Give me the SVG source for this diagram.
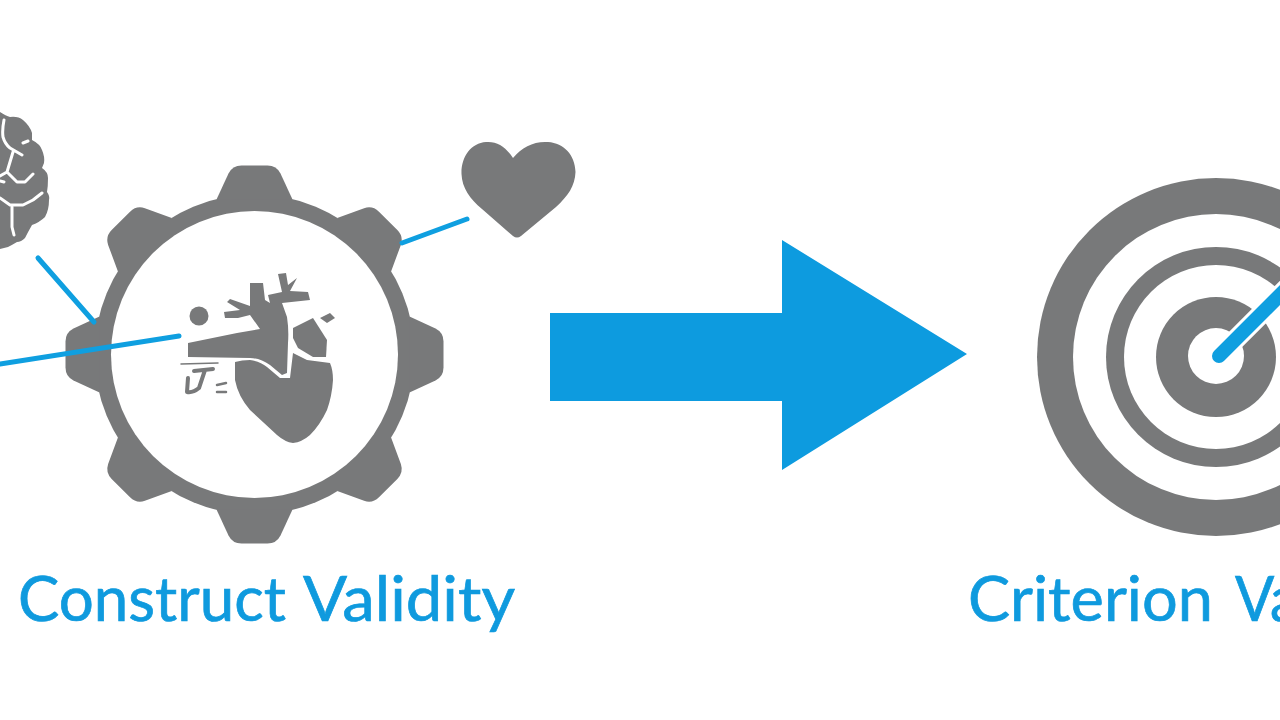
<svg xmlns="http://www.w3.org/2000/svg" width="1280" height="720" viewBox="0 0 1280 720">
<style>
.g{fill:#78797a}
.w{fill:none;stroke:#fff;stroke-width:3;stroke-linecap:round;stroke-linejoin:round}
.s{fill:none;stroke:#78797a;stroke-linecap:round;stroke-linejoin:round}
.b{fill:none;stroke:#0f9fe0;stroke-width:5;stroke-linecap:round}
.t{font-family:"Lato","Open Sans",sans-serif;font-size:62px;fill:#0f9ade;stroke:#0f9ade;stroke-width:.7}
</style>
<defs><path id="tooth" d="M-38-155L-26-181Q-22-189-13-189H13Q22-189 26-181L38-155Z"/></defs>
<rect width="1280" height="720" fill="#fff"/>
<g id="gear">
<g class="g" transform="translate(254.500 354.500)">
<circle r="160"/>
<use href="#tooth"/><use href="#tooth" transform="rotate(45)"/><use href="#tooth" transform="rotate(90)"/><use href="#tooth" transform="rotate(135)"/><use href="#tooth" transform="rotate(180)"/><use href="#tooth" transform="rotate(225)"/><use href="#tooth" transform="rotate(270)"/><use href="#tooth" transform="rotate(315)"/>
</g>
<circle cx="254.500" cy="354.500" r="143.500" fill="#fff"/>
</g>
<g id="heart-anatomy">
<circle class="g" cx="199" cy="316" r="9.500"/>
<path class="g" d="M188 343L237 333L260 329L250 315L238 318L225 318L224 312L240 310L227 302L230 299L250 306V283H263L265 300L270 303L268 295L282 292L278 274L286 273L288 285L297 278L290 291L308 292L310 300L282 303L287 317Q289 330 288 343L287 373L282 375L270 365Q260 358 250 358L188 357Z"/>
<path class="g" d="M293 328L313 318L327 340L326 357H313L298 348L293 338Z"/>
<path class="g" d="M320 318L330 313L335 318L327 323Z"/>
<path class="g" d="M235 362Q242 360 250 360Q260 361 267 367L280 378H290L293 353L307 360L330 363Q333 370 333 380Q332 396 327 410Q320 425 310 435Q302 442 293 443Q285 442 277 435L250 410Q238 396 235 380Z"/>
<path class="s" stroke-width="1.500" d="M181 364L218 363"/>
<path class="s" stroke-width="4" d="M194 371L213 369M205 370L199 388Q193 393 187 392L188 378"/>
<path class="s" stroke-width="2.500" d="M217 385L226 383M217 392L226 392"/>
</g>
<g id="brain">
<path class="g" d="M0 112Q6 116 10 117Q18 116 23 120Q30 126 32 133L32 140Q40 144 42 150Q45 157 44 163L42 168Q48 172 48 178Q48 186 47 192Q50 196 49 200Q49 210 45 217Q40 222 32 225Q28 232 25 238Q21 242 17 242Q12 245 8 247L0 249Z"/>
<path class="w" d="M4 120Q2 130 3 137Q5 144 10 148L22 155M13 152L7 172L0 176M7 172L17 182H25L33 174M0 198L10 205H23L33 200L42 193M12 207V227L14 235M23 143L28 141M0 181L4 182"/>
</g>
<g id="heart-icon"><path class="g" d="M513 158C506 147 497 141 486 142C471 143 461 157 461.500 174C462 188 470 199 482 209L513 236Q517 239 521 236L556 207C568 196 575 186 575.500 172C575 155 564 143 548 142C534 141 522 147 513 158Z"/></g>
<g id="connectors">
<line class="b" x1="38" y1="258" x2="94" y2="322"/>
<line class="b" x1="0" y1="364" x2="179" y2="336"/>
<line class="b" x1="402" y1="243" x2="467" y2="219"/>
<path id="main-arrow" fill="#0d9bdf" d="M550 313H782V240L967 354L782 470V401H550Z"/>
</g>
<g id="target">
<circle class="g" cx="1216" cy="357" r="179"/>
<circle cx="1216" cy="357" r="143" fill="#fff"/>
<circle class="g" cx="1216" cy="357" r="110"/>
<circle cx="1216" cy="357" r="92" fill="#fff"/>
<circle class="g" cx="1216" cy="357" r="60"/>
<circle cx="1216" cy="356" r="28" fill="#fff"/>
<path d="M1219 356L1300 275" stroke="#fff" stroke-width="20" stroke-linecap="round" fill="none"/>
<path d="M1219 356L1300 275" stroke="#0f9fe0" stroke-width="14" stroke-linecap="round" fill="none"/>
</g>
<g id="labels">
<text class="t" y="621"><tspan x="18" textLength="268" lengthAdjust="spacingAndGlyphs">Construct</tspan> <tspan x="303" textLength="212" lengthAdjust="spacingAndGlyphs">Validity</tspan></text>
<text class="t" y="621"><tspan x="968" textLength="245" lengthAdjust="spacingAndGlyphs">Criterion</tspan> <tspan x="1235" textLength="64" lengthAdjust="spacingAndGlyphs">Va</tspan></text>
</g>
</svg>
